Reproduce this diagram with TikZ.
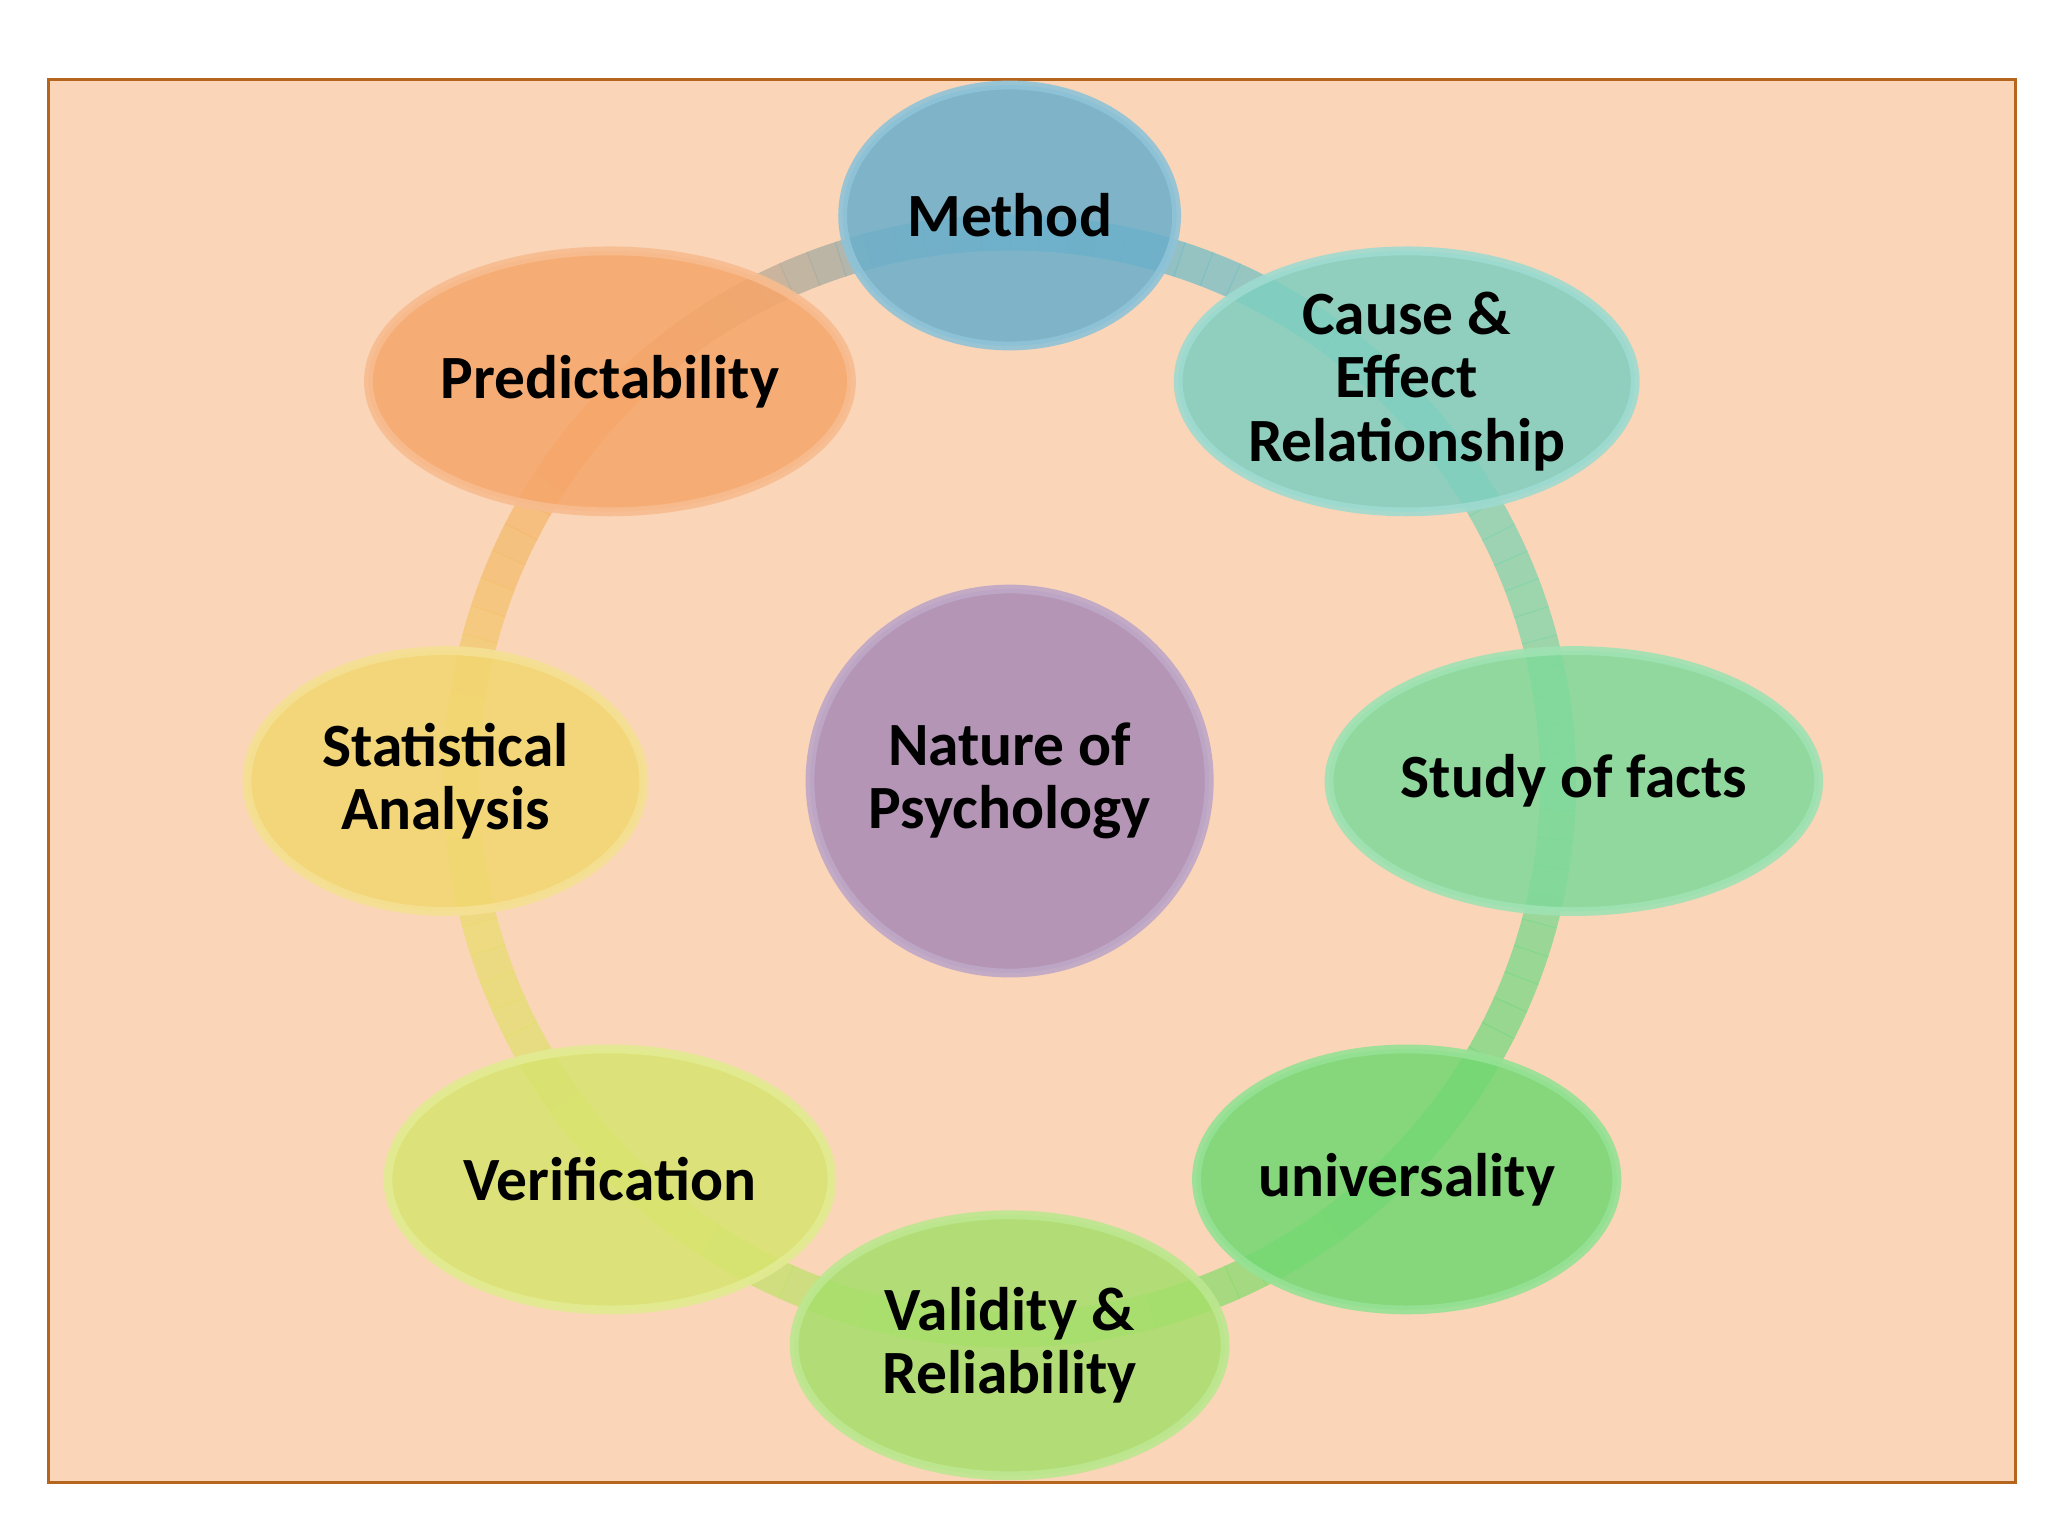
\documentclass[tikz,border=0pt]{standalone}
\usepackage{fontspec}
\setmainfont{Carlito}
\usetikzlibrary{shapes.geometric}
\definecolor{bg}{HTML}{FAD5B8}
\definecolor{frame}{HTML}{B5651D}
\definecolor{cM}{HTML}{6AAFCB}
\definecolor{cC}{HTML}{7ECFC0}
\definecolor{cS}{HTML}{7FD99A}
\definecolor{cU}{HTML}{72D872}
\definecolor{cV}{HTML}{A6DF6B}
\definecolor{cR}{HTML}{D8E46E}
\definecolor{cA}{HTML}{F2D770}
\definecolor{cP}{HTML}{F6A66A}
\definecolor{cN}{HTML}{A88AB5}
\tikzset{
  bub/.style={ellipse, fill=#1, fill opacity=0.85, text opacity=1, draw=#1!75!white, draw opacity=0.9, line width=2.5pt, inner sep=0pt, align=center, font=\fontsize{17.5}{18}\selectfont\bfseries},
}
\begin{document}
\begin{tikzpicture}[x=0.01306cm,y=0.01306cm]
\useasboundingbox (0,0) rectangle (1568,1176);
\fill[white] (0,0) rectangle (1568,1176);
\draw[fill=bg, draw=frame, line width=1pt] (37,41) rectangle (1543,1115);
% ring
\foreach \a/\ca/\cb in {90/cM/cC,45/cC/cS,0/cS/cU,-45/cU/cV,-90/cV/cR,-135/cR/cA,-180/cA/cP,-225/cP/cM}{
  \foreach \i in {0,...,14}{
    \pgfmathsetmacro\p{100-\i*100/14}
    \pgfmathsetmacro\st{\a-\i*3}
    \draw[\ca!\p!\cb, line width=0.36cm, opacity=0.75] ([shift={(\st:5.485cm)}]773,578) arc[start angle=\st, end angle=\st-3.1, radius=5.485cm];
  }
}
\node[bub=cN, minimum width=3.84cm, minimum height=3.84cm] (n) at (773,578) {Nature of\\Psychology};
\node[bub=cM, minimum width=3.34cm, minimum height=2.61cm] (m) at (773,1011) {Method};
\node[bub=cC, minimum width=4.57cm, minimum height=2.61cm] (c) at (1077,884) {Cause \&\\Effect\\Relationship};
\node[bub=cS, minimum width=4.83cm, minimum height=2.61cm] (s) at (1205,578) {Study of facts};
\node[bub=cU, minimum width=3.97cm, minimum height=2.61cm] (u) at (1077,273) {universality};
\node[bub=cV, minimum width=4.31cm, minimum height=2.61cm] (v) at (773,146) {Validity \&\\Reliability};
\node[bub=cR, minimum width=4.44cm, minimum height=2.61cm] (r) at (467,273) {Verification};
\node[bub=cA, minimum width=3.97cm, minimum height=2.61cm] (a) at (341,578) {Statistical\\Analysis};
\node[bub=cP, minimum width=4.83cm, minimum height=2.61cm] (p) at (467,884) {Predictability};
\end{tikzpicture}
\end{document}
